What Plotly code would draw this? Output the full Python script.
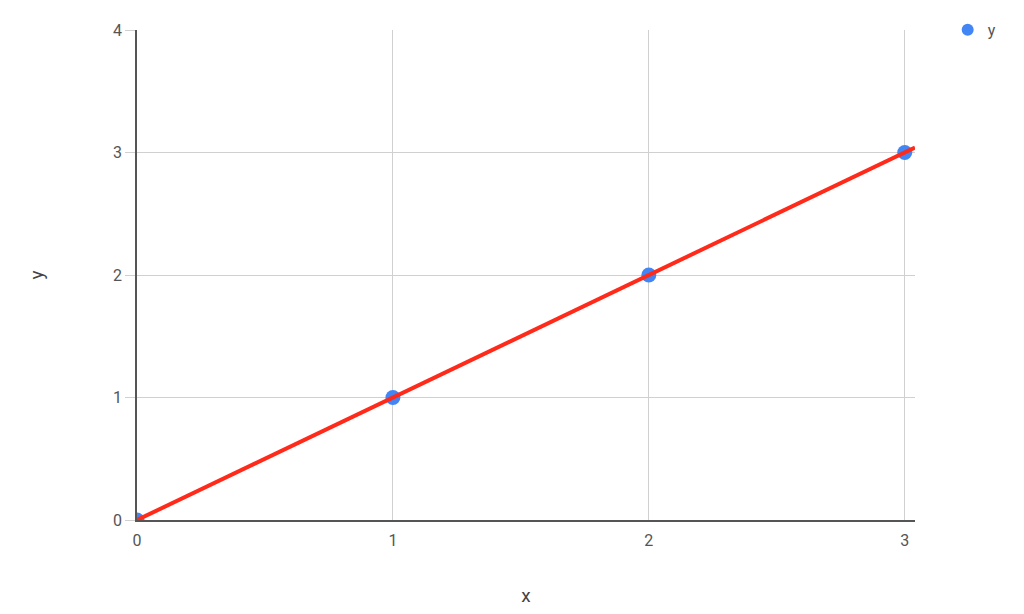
import numpy as np
import plotly.graph_objects as go

x_vals = [0, 1, 2, 3]
y_vals = [0, 1, 2, 3]
x_ticks = [0, 1, 2, 3]
y_ticks = [0, 1, 2, 3, 4]

# linear trendline, like the sheets chart
slope, intercept = np.polyfit(x_vals, y_vals, 1)
x_end = 3.04
trend_x = [0, x_end]
trend_y = [intercept, slope * x_end + intercept]

fig = go.Figure()
fig.add_trace(go.Scatter(
    x=x_vals, y=y_vals, mode='markers', name='y',
    marker=dict(color='#4285f4', size=15),
))
fig.add_trace(go.Scatter(
    x=trend_x, y=trend_y, mode='lines', showlegend=False,
    line=dict(color='#ff2a1a', width=4),
))

# page body has an 8px margin, so margins are shifted by that
fig.update_layout(
    width=1024, height=614,
    margin=dict(l=129, r=117, t=22, b=102, autoexpand=False),
    paper_bgcolor='white', plot_bgcolor='white',
    font=dict(family='Roboto, Arial', size=16, color='#444'),
    legend=dict(x=1.042, y=1.035, xanchor='left', yanchor='top',
                font=dict(size=16, color='#555'), itemsizing='constant'),
)
fig.update_xaxes(
    range=[0, x_end], tickvals=x_ticks, showgrid=True, gridcolor='#d0d0d0',
    showline=True, linecolor='#555', linewidth=1.5, zeroline=False,
    ticks='', ticklabelstandoff=5,
    title=dict(text='x', standoff=40), tickfont=dict(color='#555'),
)
fig.update_yaxes(
    range=[0, 4], tickvals=y_ticks, showgrid=True, gridcolor='#d0d0d0',
    showline=True, linecolor='#555', linewidth=1.5, zeroline=False,
    ticks='outside', ticklen=10, tickcolor='#d0d0d0',
    title=dict(text='y', standoff=64), tickfont=dict(color='#555'),
)

fig.write_html("out.html")
